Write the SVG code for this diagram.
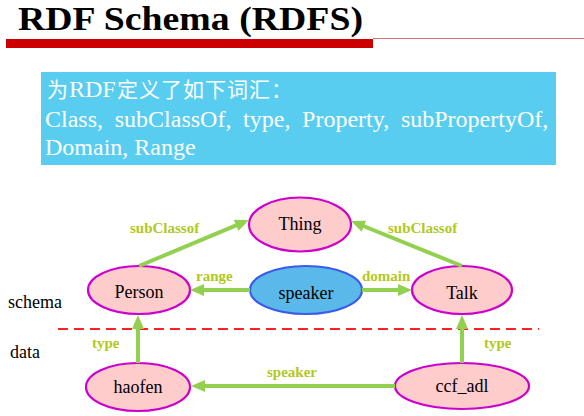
<svg xmlns="http://www.w3.org/2000/svg" width="584" height="416" viewBox="0 0 584 416">
<style>
.node{fill:#FFCCCC;stroke:#CC00CC;stroke-width:2.2}
.nt{font-size:18px;fill:#000;text-anchor:middle}
.lbl{font-size:15px;font-weight:bold;fill:#B2C81C}
.side{font-size:18px;fill:#000}
.edge{stroke:#92D050;stroke-width:4;fill:none;marker-end:url(#ah)}
.box{font-size:24px;fill:#FFFFFF}
.cjk{font-size:21px}
</style>
<defs>
<marker id="ah" markerUnits="userSpaceOnUse" markerWidth="14" markerHeight="12" refX="2" refY="6" orient="auto">
<path d="M0,0 L14,6 L0,12 z" fill="#92D050"/>
</marker>
</defs>
<rect width="584" height="416" fill="#FFFFFF"/>
<g font-family="'Liberation Serif','Times New Roman',serif">
<g id="title">
<text x="18" y="30" font-weight="bold" font-size="34" textLength="345" lengthAdjust="spacingAndGlyphs" fill="#000">RDF Schema (RDFS)</text>
<rect x="6" y="39" width="367" height="9" fill="#CC0000"/>
<line x1="373" y1="38.5" x2="584" y2="38.5" stroke="#D97070" stroke-width="1"/>
</g>
<g id="vocab">
<rect x="41" y="72" width="515" height="93" fill="#58CDF0"/>
<text class="box" x="47" y="97"><tspan class="cjk" font-family="'Noto Sans CJK SC','Noto Sans',sans-serif">为</tspan><tspan x="69">RDF</tspan><tspan class="cjk" font-family="'Noto Sans CJK SC','Noto Sans',sans-serif" x="117" letter-spacing="1">定义了如下词汇：</tspan></text>
<text class="box" x="45" y="127" word-spacing="5.7">Class, subClassOf, type, Property, subPropertyOf,</text>
<text class="box" x="45" y="155">Domain, Range</text>
</g>
<g id="side-labels">
<text class="side" x="8" y="308">schema</text>
<text class="side" x="10" y="358">data</text>
<line x1="58" y1="329" x2="539" y2="329" stroke="#FF2020" stroke-width="2" stroke-dasharray="10,6"/>
</g>
<g id="Thing"><ellipse class="node" cx="300" cy="224.5" rx="51" ry="27"/><text class="nt" x="300" y="230">Thing</text></g>
<g id="Person"><ellipse class="node" cx="139" cy="290" rx="51" ry="24"/><text class="nt" x="139" y="298">Person</text></g>
<g id="speaker"><ellipse cx="306" cy="290" rx="56" ry="24" fill="#5BB9EA" stroke="#3A5CEB" stroke-width="2.2"/><text class="nt" x="306" y="299">speaker</text></g>
<g id="Talk"><ellipse class="node" cx="462" cy="290" rx="50" ry="24"/><text class="nt" x="462" y="299">Talk</text></g>
<g id="haofen"><ellipse class="node" cx="138" cy="387" rx="52" ry="24"/><text class="nt" x="138" y="393">haofen</text></g>
<g id="ccf_adl"><ellipse class="node" cx="462" cy="386" rx="67" ry="23"/><text class="nt" x="462" y="392">ccf_adl</text></g>
<g id="connectors">
<path class="edge" d="M139,266 L237.9,224.6"/>
<path class="edge" d="M462,266 L362.1,225.5"/>
<path class="edge" d="M250,290 L202,290"/>
<path class="edge" d="M362,290 L400,290"/>
<path class="edge" d="M138,363 L138,327"/>
<path class="edge" d="M462,363 L462,327"/>
<path class="edge" d="M395,386 L203,386"/>
<text class="lbl" x="130" y="233">subClassof</text>
<text class="lbl" x="388" y="233">subClassof</text>
<text class="lbl" x="196" y="281">range</text>
<text class="lbl" x="362" y="281">domain</text>
<text class="lbl" x="92" y="348">type</text>
<text class="lbl" x="484" y="348">type</text>
<text class="lbl" x="267" y="377">speaker</text>
</g>
</g>
</svg>
